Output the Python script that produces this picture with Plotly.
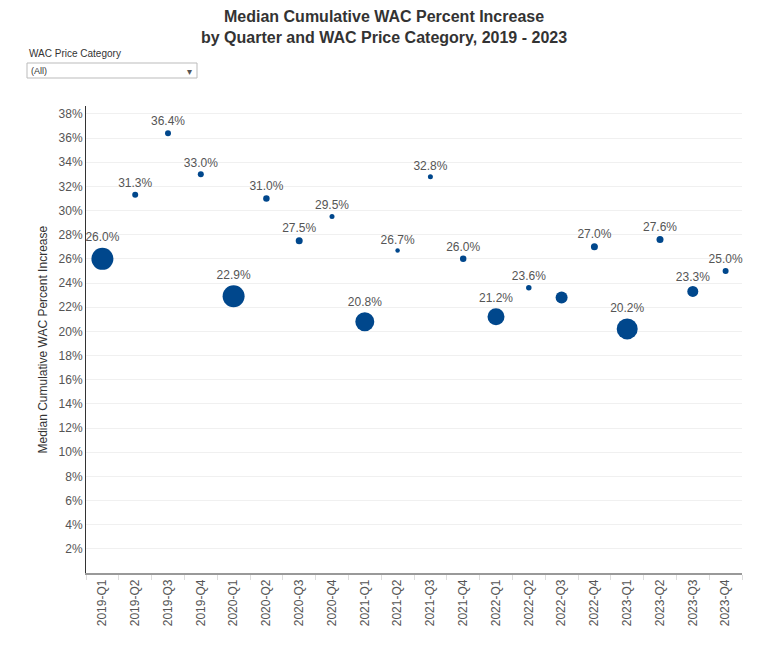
import plotly.graph_objects as go

quarters = ["2019-Q1", "2019-Q2", "2019-Q3", "2019-Q4",
            "2020-Q1", "2020-Q2", "2020-Q3", "2020-Q4",
            "2021-Q1", "2021-Q2", "2021-Q3", "2021-Q4",
            "2022-Q1", "2022-Q2", "2022-Q3", "2022-Q4",
            "2023-Q1", "2023-Q2", "2023-Q3", "2023-Q4"]
median_increase_pct = [26.0, 31.3, 36.4, 33.0,
                       22.9, 31.0, 27.5, 29.5,
                       20.8, 26.7, 32.8, 26.0,
                       21.2, 23.6, 22.8, 27.0,
                       20.2, 27.6, 23.3, 25.0]
point_labels = ["26.0%", "31.3%", "36.4%", "33.0%",
                "22.9%", "31.0%", "27.5%", "29.5%",
                "20.8%", "26.7%", "32.8%", "26.0%",
                "21.2%", "23.6%", "", "27.0%",
                "20.2%", "27.6%", "23.3%", "25.0%"]
drug_counts = [484, 36, 36, 36,
               484, 42, 49, 25,
               361, 20, 25, 42,
               289, 30, 144, 49,
               441, 49, 121, 36]
y_tick_values = [2, 4, 6, 8, 10, 12, 14, 16, 18, 20, 22, 24, 26, 28, 30, 32, 34, 36, 38]
y_tick_labels = [f"{v}%" for v in y_tick_values]

BLUE = "#00478c"
FONT = "Liberation Sans, Arial, sans-serif"

# plot area in page pixels
PX0, PX1, PY0, PY1 = 86, 742, 106, 573
PW, PH = PX1 - PX0, PY1 - PY0


def px(x):
    return (x - PX0) / PW


def py(y):
    return (PY1 - y) / PH


fig = go.Figure()
fig.add_trace(go.Scatter(
    x=quarters,
    y=median_increase_pct,
    mode="markers+text",
    text=point_labels,
    textposition="top center",
    textfont=dict(family=FONT, size=12, color="#555555"),
    marker=dict(size=drug_counts, sizemode="area", sizeref=2, color=BLUE,
                opacity=1, line=dict(width=0)),
    hoverinfo="x+y",
    cliponaxis=False,
))

fig.update_layout(
    width=768, height=648,
    margin=dict(l=PX0, r=768 - PX1, t=PY0, b=648 - PY1),
    paper_bgcolor="white", plot_bgcolor="white",
    showlegend=False,
    font=dict(family=FONT, color="#555555"),
    xaxis=dict(
        type="category",
        categoryorder="array", categoryarray=quarters,
        range=[-0.5, len(quarters) - 0.5],
        tickangle=-90,
        tickfont=dict(family=FONT, size=12, color="#555555"),
        showgrid=False,
        showline=True, linecolor="#999999", linewidth=1.5,
        ticks="outside", tickson="boundaries", ticklen=5, tickcolor="#dddddd",
        zeroline=False, fixedrange=True,
    ),
    yaxis=dict(
        range=[0, 38.65],
        tickvals=y_tick_values, ticktext=y_tick_labels,
        tickfont=dict(family=FONT, size=12, color="#555555"),
        showgrid=True, gridcolor="#f0f0f0", gridwidth=1,
        showline=True, linecolor="#333333", linewidth=1,
        ticks="", zeroline=False, fixedrange=True,
    ),
    annotations=[
        dict(text="<b>Median Cumulative WAC Percent Increase<br>by Quarter and WAC Price Category, 2019 - 2023</b>",
             xref="paper", yref="paper", x=px(384), y=py(6),
             xanchor="center", yanchor="top", showarrow=False,
             font=dict(family=FONT, size=16, color="#333333")),
        dict(text="Median Cumulative WAC Percent Increase",
             xref="paper", yref="paper", x=px(42), y=0.5,
             xanchor="center", yanchor="middle", textangle=-90, showarrow=False,
             font=dict(family=FONT, size=12, color="#333333")),
        dict(text="WAC Price Category",
             xref="paper", yref="paper", x=px(27), y=py(53),
             xanchor="left", yanchor="middle", showarrow=False,
             font=dict(family=FONT, size=10, color="#333333")),
        dict(text="(All)",
             xref="paper", yref="paper", x=px(29), y=py(70.5),
             xanchor="left", yanchor="middle", showarrow=False,
             font=dict(family=FONT, size=9, color="#333333")),
        dict(text="▾",
             xref="paper", yref="paper", x=px(189), y=py(71),
             xanchor="center", yanchor="middle", showarrow=False,
             font=dict(family=FONT, size=10, color="#555555")),
    ],
    shapes=[
        dict(type="rect", xref="paper", yref="paper",
             x0=px(27), x1=px(197), y0=py(78), y1=py(63),
             line=dict(color="#bbbbbb", width=1), fillcolor="white"),
    ],
)

fig.write_html("out.html",
               config={"displayModeBar": False},
               post_script="document.body.style.margin='0';document.body.style.padding='0';")
